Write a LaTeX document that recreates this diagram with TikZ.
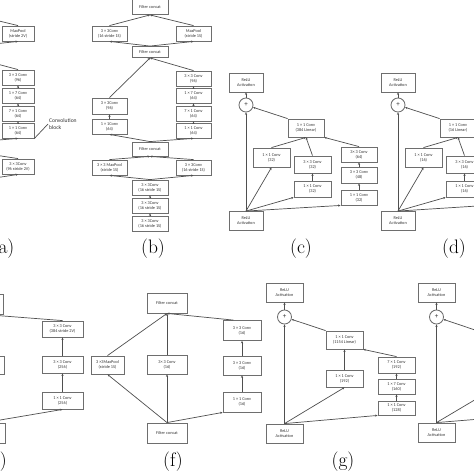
\documentclass[tikz,border=0pt]{standalone}
\usepackage{fontspec}
\newfontfamily\boxfont{Carlito}
\usetikzlibrary{arrows.meta,calc}
\definecolor{bc}{HTML}{6E6E6E}
\definecolor{lc}{HTML}{4F4F4F}
\definecolor{tc}{HTML}{333333}
\begin{document}
\begin{tikzpicture}[x=1pt,y=-1pt,
  bx/.style={draw=bc, line width=0.85pt, fill=white, align=center, inner sep=0.3pt,
             font=\boxfont\fontsize{4.3}{4.9}\selectfont, text=tc},
  pl/.style={circle, draw=bc, line width=0.85pt, fill=white, minimum size=14pt, inner sep=0pt,
             font=\boxfont\fontsize{7}{7}\selectfont, text=tc},
  ln/.style={draw=lc, line width=0.7pt, -{Stealth[length=2.4pt,width=2.2pt]}},
  lab/.style={font=\fontsize{19.5}{19.5}\selectfont, text=black, inner sep=0pt},
  note/.style={font=\boxfont\fontsize{5.6}{6.4}\selectfont, text=tc, align=left, inner sep=0pt, anchor=west}]
\useasboundingbox (0,0) rectangle (474,474);
\clip (0,0) rectangle (474,474);
\fill[white] (0,0) rectangle (474,474);

% ---------------- (a) ----------------
\node[bx, minimum width=32pt, minimum height=15pt] (a1) at (18,33.5) {MaxPool\\(stride 2V)};
\node[bx, minimum width=32pt, minimum height=15pt] (a2) at (18,77.5) {3 × 3 Conv\\(96)};
\node[bx, minimum width=32pt, minimum height=15pt] (a3) at (18,95.5) {1 × 7 Conv\\(64)};
\node[bx, minimum width=32pt, minimum height=15pt] (a4) at (18,113.5) {7 × 1 Conv\\(64)};
\node[bx, minimum width=32pt, minimum height=15pt] (a5) at (18,130.5) {1 × 1 Conv\\(64)};
\node[bx, minimum width=32pt, minimum height=15pt] (a6) at (18,166.5) {3 × 3Conv\\(96 stride 2V)};
\node[note] (an) at (49,124) {Convolution\\block};
\coordinate (aE1) at (-30,14);
\coordinate (aE2) at (-25.5,46);
\coordinate (aE3) at (-25.5,58);
\coordinate (aE4) at (-25.5,142);
\coordinate (aE5) at (-25,152);
\coordinate (aE6) at (-25,181);
\draw[ln] (a1.north) -- (aE1);
\draw[ln] (aE2) -- (a1.south);
\draw[ln] (a2.north) -- (aE3);
\draw[ln] (a5) -- (a4);
\draw[ln] (a4) -- (a3);
\draw[ln] (a3) -- (a2);
\draw[ln] (aE4) -- (a5.south);
\draw[ln] (a6.north) -- (aE5);
\draw[ln] (aE6) -- (a6.south);
\draw[draw=lc, line width=0.7pt] (an.west) ++(-1,0) -- (a5.south east);
\node[lab] (la) at (3,249) {(a)};

% ---------------- (b) ----------------
\node[bx, minimum width=36pt, minimum height=15pt] (b1) at (150,7) {Filter concat};
\node[bx, minimum width=35pt, minimum height=15pt] (b2) at (109.5,33.5) {3 × 3Conv\\(16 stride 1S)};
\node[bx, minimum width=35pt, minimum height=15pt] (b3) at (193.5,33.5) {MaxPool\\(stride 1S)};
\node[bx, minimum width=36pt, minimum height=11pt] (b4) at (150,52) {Filter concat};
\node[bx, minimum width=35pt, minimum height=16pt] (b5) at (109.5,106) {3 × 3Conv\\(96)};
\node[bx, minimum width=35pt, minimum height=15pt] (b6) at (109.5,126.5) {1 × 1Conv\\(64)};
\node[bx, minimum width=35pt, minimum height=15pt] (b7) at (193.5,78.5) {3 × 3 Conv\\(96)};
\node[bx, minimum width=35pt, minimum height=15pt] (b8) at (193.5,95.5) {1 × 7 Conv\\(64)};
\node[bx, minimum width=35pt, minimum height=15pt] (b9) at (193.5,113.5) {7 × 1 Conv\\(64)};
\node[bx, minimum width=35pt, minimum height=15pt] (b10) at (193.5,130.5) {1 × 1 Conv\\(64)};
\node[bx, minimum width=36pt, minimum height=14pt] (b11) at (150,149) {Filter concat};
\node[bx, minimum width=35pt, minimum height=15pt] (b12) at (109.5,167.5) {3 × 3 MaxPool\\(stride 1S)};
\node[bx, minimum width=35pt, minimum height=15pt] (b13) at (193.5,167.5) {3 × 3Conv\\(16 stride 1S)};
\node[bx, minimum width=36pt, minimum height=15pt] (b14) at (150,187.5) {3 × 3Conv\\(16 stride 1S)};
\node[bx, minimum width=36pt, minimum height=15pt] (b15) at (150,205.5) {3 × 3Conv\\(16 stride 1S)};
\node[bx, minimum width=36pt, minimum height=15pt] (b16) at (150,223.5) {3 × 3Conv\\(16 stride 1S)};
\draw[ln] (b2.north) -- (b1.south);
\draw[ln] (b3.north) -- (b1.south);
\draw[ln] (b4.north) -- (b2.south);
\draw[ln] (b4.north) -- (b3.south);
\draw[ln] (b5.north) -- (b4.south);
\draw[ln] (b7.north) -- (b4.south);
\draw[ln] (b6) -- (b5);
\draw[ln] (b10) -- (b9);
\draw[ln] (b9) -- (b8);
\draw[ln] (b8) -- (b7);
\draw[ln] (b11.north) -- (b6.south);
\draw[ln] (b11.north) -- (b10.south);
\draw[ln] (b12.north) -- (b11.south);
\draw[ln] (b13.north) -- (b11.south);
\draw[ln] (b14.north) -- (b12.south);
\draw[ln] (b14.north) -- (b13.south);
\draw[ln] (b15) -- (b14);
\draw[ln] (b16) -- (b15);
\node[lab] (lb) at (153,249) {(b)};

% ---------------- (c) ----------------
\node[bx, minimum width=34pt, minimum height=19pt] (c1) at (246,82.5) {ReLU\\Activation};
\node[pl] (pc) at (246,105) {+};
\node[bx, minimum width=36pt, minimum height=18pt] (c2) at (306,128) {1 × 1 Conv\\(384 Linear)};
\node[bx, minimum width=37pt, minimum height=19pt] (c3) at (271.5,157.5) {1 × 1 Conv\\(32)};
\node[bx, minimum width=37pt, minimum height=17pt] (c4) at (312.5,164.5) {3 × 3 Conv\\(32)};
\node[bx, minimum width=37pt, minimum height=16pt] (c5) at (312.5,189) {1 × 1 Conv\\(32)};
\node[bx, minimum width=36pt, minimum height=15pt] (c6) at (359,154.5) {3× 3 Conv\\(64)};
\node[bx, minimum width=36pt, minimum height=16pt] (c7) at (359,175) {3 × 3 Conv\\(48)};
\node[bx, minimum width=36pt, minimum height=15pt] (c8) at (359,197.5) {1 × 1 Conv\\(32)};
\node[bx, minimum width=34pt, minimum height=19pt] (c9) at (246,221) {ReLU\\Activation};
\draw[ln] (c9.north) -- (pc.south);
\draw[ln] (pc.north) -- (c1.south);
\draw[ln] (c2.north west) -- (pc);
\draw[ln] (c3.north) -- (c2.south);
\draw[ln] (c4.north) -- (c2.south);
\draw[ln] (c6.north) -- (c2.south east);
\draw[ln] (c5) -- (c4);
\draw[ln] (c8) -- (c7);
\draw[ln] (c7) -- (c6);
\draw[ln] (c9.north) -- (c3.south);
\draw[ln] (c9.north) -- (c5.south west);
\draw[ln] (c9.north) -- (c8.south west);
\node[lab] (lc) at (301,249) {(c)};

% ---------------- (d) ----------------
\node[bx, minimum width=34pt, minimum height=19pt] (d1) at (398,82.5) {ReLU\\Activation};
\node[pl] (pd) at (398,105) {+};
\node[bx, minimum width=36pt, minimum height=18pt] (d2) at (458,128) {1 × 1 Conv\\(16 Linear)};
\node[bx, minimum width=37pt, minimum height=19pt] (d3) at (423.5,157.5) {1 × 1 Conv\\(16)};
\node[bx, minimum width=37pt, minimum height=17pt] (d4) at (464.5,164.5) {3 × 3 Conv\\(16)};
\node[bx, minimum width=37pt, minimum height=16pt] (d5) at (464.5,189) {1 × 1 Conv\\(16)};
\node[bx, minimum width=34pt, minimum height=19pt] (d9) at (398,221) {ReLU\\Activation};
\coordinate (dE8) at (493,205);
\draw[ln] (d9.north) -- (pd.south);
\draw[ln] (pd.north) -- (d1.south);
\draw[ln] (d2.north west) -- (pd);
\draw[ln] (d3.north) -- (d2.south);
\draw[ln] (d4.north) -- (d2.south);
\draw[ln] (d5) -- (d4);
\draw[ln] (d9.north) -- (d3.south);
\draw[ln] (d9.north) -- (d5.south west);
\draw[ln] (d9.north) -- (dE8);
\node[lab] (ld) at (454,249) {(d)};

% ---------------- (e) ----------------
\node[bx, minimum width=40pt, minimum height=20pt] (eT) at (-17,304) {Filter concat};
\node[bx, minimum width=40pt, minimum height=18pt] (eM) at (-16,365) {3 × 3 MaxPool\\(stride 2V)};
\node[bx, minimum width=40pt, minimum height=20pt] (eB) at (-15,433) {Filter concat};
\node[bx, minimum width=41pt, minimum height=16pt] (e1) at (62.5,329) {3 × 3 Conv\\(384 stride 2V)};
\node[bx, minimum width=41pt, minimum height=17pt] (e2) at (62.5,364.5) {3 × 3 Conv\\(256)};
\node[bx, minimum width=41pt, minimum height=17pt] (e3) at (62.5,400.5) {1 × 1 Conv\\(256)};
\draw[ln] (eB.north) -- (e3.south);
\draw[ln] (e3) -- (e2);
\draw[ln] (e2) -- (e1);
\draw[ln] (e1.north) -- (eT.south);
\draw[ln] (eB) -- (eM);
\draw[ln] (eM) -- (eT);
\node[lab] (le) at (-4,462) {(e)};

% ---------------- (f) ----------------
\node[bx, minimum width=40pt, minimum height=20pt] (f1) at (167,303) {Filter concat};
\node[bx, minimum width=40pt, minimum height=19pt] (f2) at (167,364.5) {3× 3 Conv\\(16)};
\node[bx, minimum width=40pt, minimum height=20pt] (f3) at (167,433) {Filter concat};
\node[bx, minimum width=33pt, minimum height=18pt] (f4) at (107.5,365) {3 ×3MaxPool\\(stride 1S)};
\node[bx, minimum width=38pt, minimum height=20pt] (f5) at (242,330.5) {3 × 3 Conv\\(16)};
\node[bx, minimum width=38pt, minimum height=19pt] (f6) at (242,365.5) {3 × 3 Conv\\(16)};
\node[bx, minimum width=38pt, minimum height=20pt] (f7) at (242,402) {1 × 1 Conv\\(16)};
\draw[ln] (f3.north) -- (f4.south);
\draw[ln] (f3.north) -- (f2.south);
\draw[ln] (f3.north) -- (f7.south west);
\draw[ln] (f4.north) -- (f1.south);
\draw[ln] (f2.north) -- (f1.south);
\draw[ln] (f5.130) -- (f1.south);
\draw[ln] (f7) -- (f6);
\draw[ln] (f6) -- (f5);
\node[lab] (lf) at (173,462) {(f)};

% ---------------- (g) ----------------
\node[bx, minimum width=37pt, minimum height=19pt] (g1) at (284.5,292.5) {ReLU\\Activation};
\node[pl] (pg) at (284.5,317) {+};
\node[bx, minimum width=37pt, minimum height=18pt] (g2) at (344.5,340) {1 × 1 Conv\\(1154 Linear)};
\node[bx, minimum width=37pt, minimum height=17pt] (g3) at (344.5,378.5) {1 × 1 Conv\\(192)};
\node[bx, minimum width=37pt, minimum height=16pt] (g4) at (396.5,365) {7 × 1 Conv\\(192)};
\node[bx, minimum width=37pt, minimum height=15pt] (g5) at (396.5,386.5) {1 × 7 Conv\\(160)};
\node[bx, minimum width=37pt, minimum height=14pt] (g6) at (396.5,408) {1 × 1 Conv\\(128)};
\node[bx, minimum width=37pt, minimum height=19pt] (g7) at (284.5,433.5) {ReLU\\Activation};
\draw[ln] (g7.north) -- (pg.south);
\draw[ln] (pg.north) -- (g1.south);
\draw[ln] (g2.north west) -- (pg);
\draw[ln] (g3) -- (g2);
\draw[ln] (g4.north) -- (g2.south east);
\draw[ln] (g6) -- (g5);
\draw[ln] (g5) -- (g4);
\draw[ln] (g7.north) -- (g3.south);
\draw[ln] (g7.north) -- (g6.south west);
\node[lab] (lg) at (343,462) {(g)};

% ---------------- (h) ----------------
\node[bx, minimum width=37pt, minimum height=19pt] (h1) at (436.5,292.5) {ReLU\\Activation};
\node[pl] (ph) at (436.5,317) {+};
\node[bx, minimum width=37pt, minimum height=19pt] (h7) at (436.5,432.5) {ReLU\\Activation};
\coordinate (hE2) at (478,331);
\coordinate (hE3) at (496.5,387);
\coordinate (hE6) at (530,415);
\draw[ln] (h7.north) -- (ph.south);
\draw[ln] (ph.north) -- (h1.south);
\draw[ln] (hE2) -- (ph);
\draw[ln] (h7.north) -- (hE3);
\draw[ln] (h7.north) -- (hE6);
\end{tikzpicture}
\end{document}
